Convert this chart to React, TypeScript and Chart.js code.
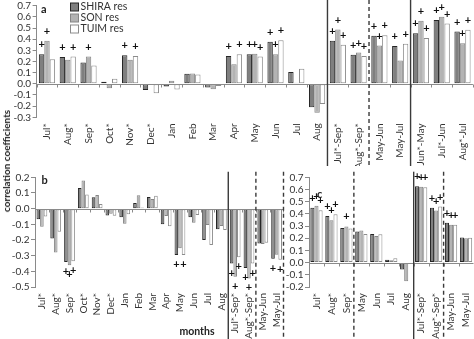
import React, { useEffect, useRef } from 'react';
import { Chart, registerables } from 'chart.js';
Chart.register(...registerables);

const FONT = 'Lato, "Liberation Sans", sans-serif';
const TEXT = '#333333';
const AXIS = '#8a8a8a';

const seriesNames = ['SHIRA res', 'SON res', 'TUIM res'];
const FILL = ['#7f7f7f', '#b3b3b3', '#ffffff'];
const BORDER = ['#262626', '#858585', '#8c8c8c'];

// ---------- panel a ----------
const categoriesA = ['Jul*', 'Aug*', 'Sep*', 'Oct*', 'Nov*', 'Dec*', 'Jan', 'Feb', 'Mar', 'Apr', 'May', 'Jun', 'Jul', 'Aug',
  'Jul*-Sep*', 'Aug*-Sep*', 'May-Jun', 'May-Jul', 'Jun*-May', 'Jul*-Jun', 'Aug*-Jul'];
const shiraA = [0.265, 0.24, 0.19, 0.018, 0.255, -0.055, -0.025, 0.09, -0.033, 0.25, 0.265, 0.378, 0.107, -0.21, 0.385, 0.26, 0.43, 0.34, 0.453, 0.572, 0.468];
const sonA = [0.385, 0.215, 0.245, -0.04, 0.215, -0.01, 0.027, 0.093, -0.048, 0.176, 0.27, 0.265, 0.01, -0.26, 0.486, 0.28, 0.343, 0.21, 0.566, 0.6, 0.363];
const tuimA = [0.22, 0.245, 0.165, 0.045, 0.25, -0.085, -0.05, 0.083, -0.02, 0.265, 0.245, 0.39, 0.134, -0.18, 0.35, 0.25, 0.435, 0.36, 0.41, 0.54, 0.485];
const sigShiraA = [1, 1, 0, 0, 1, 0, 0, 0, 0, 1, 1, 1, 0, 0, 1, 1, 1, 1, 1, 1, 1];
const sigSonA = [1, 0, 1, 0, 0, 0, 0, 0, 0, 0, 1, 1, 0, 0, 1, 1, 1, 0, 1, 1, 1];
const sigTuimA = [0, 1, 0, 0, 1, 0, 0, 0, 0, 1, 1, 1, 0, 0, 1, 1, 1, 1, 1, 1, 1];
const yTicksA = [-0.3, -0.2, -0.1, 0.0, 0.1, 0.2, 0.3, 0.4, 0.5, 0.6, 0.7];
const sepA = [{ after: 13, dashed: false }, { after: 15, dashed: true }, { after: 17, dashed: false }];

// ---------- panel b ----------
const categoriesB = ['Jul*', 'Aug*', 'Sep*', 'Oct*', 'Nov*', 'Dec*', 'Jan', 'Feb', 'Mar', 'Apr', 'May', 'Jun', 'Jul', 'Aug',
  'Jul*-Sep*', 'Aug*-Sep*', 'May-Jun', 'May-Jul'];
const shiraB = [-0.068, -0.19, -0.34, 0.132, 0.072, -0.043, -0.055, 0.036, 0.074, -0.1, -0.296, -0.055, -0.2, -0.132, -0.35, -0.378, -0.223, -0.32];
const sonB = [-0.115, -0.28, -0.362, 0.18, 0.087, -0.032, -0.096, 0.085, 0.062, -0.047, -0.253, -0.09, -0.104, -0.11, -0.434, -0.445, -0.226, -0.294];
const tuimB = [-0.05, -0.147, -0.336, 0.09, 0.03, -0.045, -0.036, 0.008, 0.083, -0.113, -0.296, -0.04, -0.232, -0.136, -0.31, -0.35, -0.217, -0.326];
const sigShiraB = [0, 0, 1, 0, 0, 0, 0, 0, 0, 0, 1, 0, 0, 0, 1, 1, 0, 1];
const sigSonB = [0, 0, 1, 0, 0, 0, 0, 0, 0, 0, 0, 0, 0, 0, 1, 1, 0, 0];
const sigTuimB = [0, 0, 1, 0, 0, 0, 0, 0, 0, 0, 1, 0, 0, 0, 1, 1, 0, 1];
const yTicksB = [-0.5, -0.4, -0.3, -0.2, -0.1, 0.0, 0.1, 0.2];
const sepB = [{ after: 13, dashed: false }, { after: 15, dashed: true }, { after: 17, dashed: true }];

// ---------- panel c ----------
const categoriesC = ['Jul*', 'Aug*', 'Sep*', 'May', 'Jun', 'Jul', 'Aug', 'Jul*-Sep*', 'Aug*-Sep*', 'May-Jun', 'May-Jul'];
const shiraC = [0.45, 0.382, 0.285, 0.256, 0.234, 0.024, -0.057, 0.627, 0.45, 0.328, 0.207];
const sonC = [0.466, 0.347, 0.297, 0.264, 0.218, 0.019, -0.153, 0.622, 0.428, 0.31, 0.2];
const tuimC = [0.43, 0.396, 0.28, 0.234, 0.232, 0.035, -0.01, 0.619, 0.46, 0.31, 0.205];
const sigShiraC = [1, 1, 0, 0, 0, 0, 0, 1, 1, 1, 0];
const sigSonC = [1, 1, 1, 0, 0, 0, 0, 1, 1, 1, 0];
const sigTuimC = [1, 1, 0, 0, 0, 0, 0, 1, 1, 1, 0];
const yTicksC = [-0.2, -0.1, 0.0, 0.1, 0.2, 0.3, 0.4, 0.5, 0.6, 0.7];
const sepC = [{ after: 2, dashed: true }, { after: 6, dashed: false }, { after: 8, dashed: true }];

type PanelDef = {
  labels: string[];
  series: number[][];
  sig: number[][];
  yTicks: number[];
  seps: { after: number; dashed: boolean }[];
  left: number; top: number; width: number; height: number;
  yAxisW: number; padTop: number; padRight: number; xAxisH: number;
  catPct: number; sepTop: number;
  letter: { text: string; x: number; y: number };
  legend: boolean;
};

const panels: PanelDef[] = [
  {
    labels: categoriesA, series: [shiraA, sonA, tuimA], sig: [sigShiraA, sigSonA, sigTuimA], yTicks: yTicksA, seps: sepA,
    left: 0, top: 0, width: 474, height: 166, yAxisW: 36.6, padTop: 5.7, padRight: 1.1, xAxisH: 48.7,
    catPct: 0.78, sepTop: 0, letter: { text: 'a', x: 41, y: 9.5 }, legend: true,
  },
  {
    labels: categoriesB, series: [shiraB, sonB, tuimB], sig: [sigShiraB, sigSonB, sigTuimB], yTicks: yTicksB, seps: sepB,
    left: 0, top: 166, width: 286, height: 173, yAxisW: 35, padTop: 11.3, padRight: 2.5, xAxisH: 52,
    catPct: 0.78, sepTop: 5.7, letter: { text: 'b', x: 41.5, y: 14 }, legend: false,
  },
  {
    labels: categoriesC, series: [shiraC, sonC, tuimC], sig: [sigShiraC, sigSonC, sigTuimC], yTicks: yTicksC, seps: sepC,
    left: 284, top: 166, width: 190, height: 173, yAxisW: 25, padTop: 11.3, padRight: 0.5, xAxisH: 52,
    catPct: 0.82, sepTop: 5.7, letter: { text: 'c', x: 33, y: 28 }, legend: false,
  },
];

function fmt(v: number) {
  if (Math.abs(v) < 1e-9) return '0.0';
  return v.toFixed(1);
}

function decorPlugin(p: PanelDef) {
  return {
    id: 'decor',
    afterDatasetsDraw(chart: any) {
      const ctx = chart.ctx as CanvasRenderingContext2D;
      const area = chart.chartArea;
      const xs = chart.scales.x;
      const ys = chart.scales.y;
      const n = p.labels.length;
      const half = (xs.getPixelForValue(1) - xs.getPixelForValue(0)) / 2;
      ctx.save();
      // zero line with category tick marks
      const y0 = Math.round(ys.getPixelForValue(0)) + 0.5;
      ctx.strokeStyle = AXIS;
      ctx.lineWidth = 1;
      ctx.setLineDash([]);
      ctx.beginPath();
      ctx.moveTo(area.left, y0);
      ctx.lineTo(area.right, y0);
      for (let i = 0; i <= n; i++) {
        const bx = Math.round(xs.getPixelForValue(0) - half + i * 2 * half) + 0.5;
        ctx.moveTo(bx, y0);
        ctx.lineTo(bx, y0 + 3);
      }
      ctx.stroke();
      // separators
      ctx.strokeStyle = '#3a3a3a';
      ctx.lineWidth = 1.4;
      p.seps.forEach((s) => {
        const bx = xs.getPixelForValue(s.after) + half;
        ctx.setLineDash(s.dashed ? [4, 3] : []);
        ctx.beginPath();
        ctx.moveTo(bx, p.sepTop);
        ctx.lineTo(bx, chart.height);
        ctx.stroke();
      });
      ctx.setLineDash([]);
      // significance marks
      ctx.fillStyle = '#111';
      ctx.font = `bold 11px ${FONT}`;
      ctx.textAlign = 'center';
      ctx.textBaseline = 'middle';
      p.sig.forEach((sg, di) => {
        const meta = chart.getDatasetMeta(di);
        sg.forEach((flag, j) => {
          if (!flag) return;
          const bar = meta.data[j];
          const v = p.series[di][j];
          const yy = v >= 0 ? bar.y - 9.5 : bar.y + 9.5;
          ctx.fillText('+', bar.x, yy);
        });
      });
      // panel letter
      ctx.textAlign = 'left';
      ctx.fillStyle = '#222';
      ctx.font = `bold 11px ${FONT}`;
      ctx.fillText(p.letter.text, p.letter.x, p.letter.y);
      // legend
      if (p.legend) {
        const ly = [7, 18, 29];
        ctx.font = `10.5px ${FONT}`;
        seriesNames.forEach((name, i) => {
          ctx.fillStyle = FILL[i];
          ctx.fillRect(70.5, ly[i] - 4, 8, 8);
          ctx.strokeStyle = BORDER[i];
          ctx.lineWidth = 1;
          ctx.strokeRect(70.5, ly[i] - 4, 8, 8);
          ctx.fillStyle = TEXT;
          ctx.fillText(name, 80.5, ly[i]);
        });
      }
      ctx.restore();
    },
  };
}

function buildConfig(p: PanelDef): any {
  const ymin = p.yTicks[0];
  const ymax = p.yTicks[p.yTicks.length - 1];
  return {
    type: 'bar',
    data: {
      labels: p.labels,
      datasets: p.series.map((d, i) => ({
        label: seriesNames[i],
        data: d,
        backgroundColor: FILL[i],
        borderColor: BORDER[i],
        borderWidth: 1,
        borderSkipped: false,
        categoryPercentage: p.catPct,
        barPercentage: 1,
      })),
    },
    options: {
      responsive: false,
      animation: false,
      devicePixelRatio: 1,
      layout: { padding: { top: p.padTop, right: p.padRight, left: 0, bottom: 0 } },
      plugins: { legend: { display: false }, tooltip: { enabled: false } },
      scales: {
        x: {
          type: 'category',
          offset: true,
          grid: { display: false, drawTicks: false },
          border: { display: false },
          ticks: {
            autoSkip: false, maxRotation: 90, minRotation: 90, padding: 6,
            color: TEXT, font: { family: FONT, size: 10 },
          },
          afterFit: (s: any) => { s.height = p.xAxisH; s.paddingLeft = 0; s.paddingRight = 0; },
        },
        y: {
          min: ymin,
          max: ymax,
          grid: { drawOnChartArea: false, drawTicks: true, tickLength: 4, color: AXIS },
          border: { display: true, color: AXIS },
          afterBuildTicks: (s: any) => { s.ticks = p.yTicks.map((v) => ({ value: v })); },
          ticks: {
            autoSkip: false, padding: 1.5, color: TEXT, font: { family: FONT, size: 10 },
            callback: (v: any) => fmt(Number(v)),
          },
          afterFit: (s: any) => { s.width = p.yAxisW; s.paddingTop = 0; s.paddingBottom = 0; },
        },
      },
    },
    plugins: [decorPlugin(p)],
  };
}

function Panel({ p }: { p: PanelDef }) {
  const ref = useRef<HTMLCanvasElement>(null);
  useEffect(() => {
    const chart = new Chart(ref.current as HTMLCanvasElement, buildConfig(p));
    return () => chart.destroy();
  }, [p]);
  return (
    <canvas
      ref={ref}
      width={p.width}
      height={p.height}
      style={{ position: 'absolute', left: p.left, top: p.top, width: p.width, height: p.height }}
    />
  );
}

export default function App() {
  return (
    <div style={{ position: 'absolute', left: 0, top: 0, width: 474, height: 339, background: '#fff', overflow: 'hidden', fontFamily: FONT }}>
      {panels.map((p, i) => <Panel key={i} p={p} />)}
      <div style={{
        position: 'absolute', left: 6, top: 161, transform: 'translate(-50%, -50%) rotate(-90deg)',
        fontWeight: 'bold', fontSize: 10, color: '#222', whiteSpace: 'nowrap', lineHeight: 1,
      }}>correlation coefficients</div>
      <div style={{
        position: 'absolute', left: 197, top: 331, transform: 'translate(-50%, -50%)',
        fontWeight: 'bold', fontSize: 10.5, color: '#222', whiteSpace: 'nowrap', lineHeight: 1,
      }}>months</div>
    </div>
  );
}
